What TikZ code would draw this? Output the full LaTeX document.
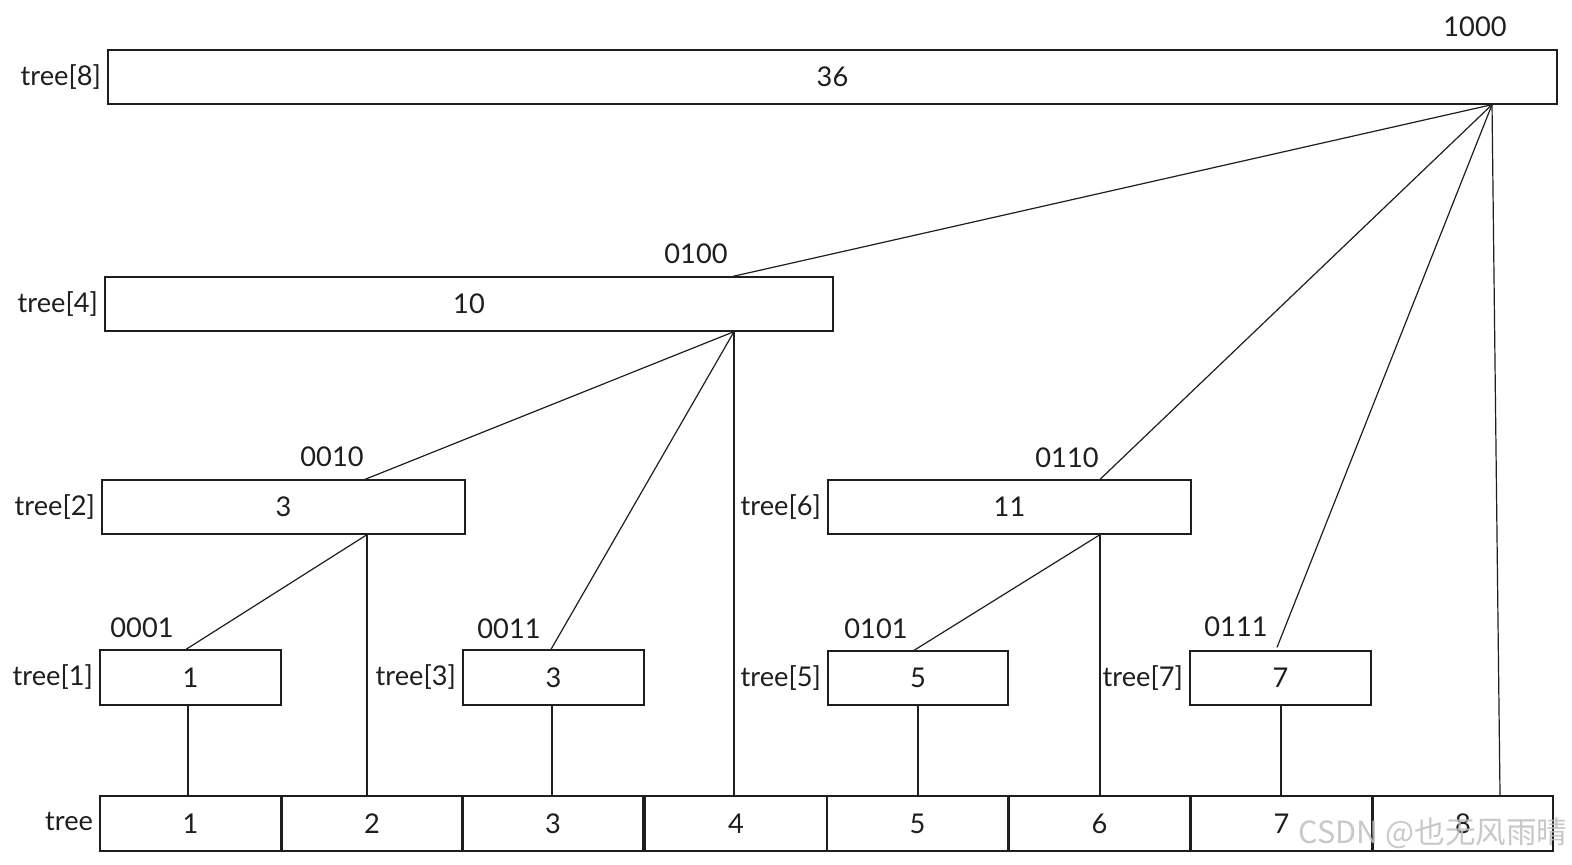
\documentclass[tikz,border=0pt]{standalone}
\usepackage{fontspec}
\setmainfont{Lato}
\newfontfamily\cjkfont{Noto Sans CJK SC}
\usetikzlibrary{calc}
\definecolor{ink}{HTML}{1E1E1E}
\tikzset{
  bx/.style 2 args={draw=ink, line width=0.65pt, inner sep=0pt, minimum width=#1*0.5pt, minimum height=#2*0.5pt, text=ink, font=\fontsize{13.6}{15}\selectfont},
  lbl/.style={anchor=east, inner sep=0pt, text=ink, font=\fontsize{13.6}{15}\selectfont},
  bin/.style={inner sep=0pt, text=ink, font=\fontsize{13.6}{15}\selectfont},
  link/.style={draw=ink, line width=0.6pt}
}
\begin{document}
\begin{tikzpicture}[x=0.5pt,y=-0.5pt]
\useasboundingbox[fill=white] (0,0) rectangle (1572,864);
% boxes
\node[bx={1449}{54}] (b8) at (832.5,77) {36};
\node[bx={728}{54}]  (b4) at (469,304) {10};
\node[bx={363}{54}]  (b2) at (283.5,507) {3};
\node[bx={363}{54}]  (b6) at (1009.5,507) {11};
\node[bx={181}{55}]  (b1) at (190.5,677.5) {1};
\node[bx={181}{55}]  (b3) at (553.5,677.5) {3};
\node[bx={180}{54}]  (b5) at (918,678) {5};
\node[bx={181}{54}]  (b7) at (1280.5,678) {7};
% bottom array
\node[bx={181}{55}] (a1) at (190.5,823.5) {1};
\node[bx={180}{55}] (a2) at (372,823.5) {2};
\node[bx={180}{55}] (a3) at (553,823.5) {3};
\node[bx={182}{55}] (a4) at (736,823.5) {4};
\node[bx={181}{55}] (a5) at (917.5,823.5) {5};
\node[bx={181}{55}] (a6) at (1099.5,823.5) {6};
\node[bx={181}{55}] (a7) at (1281.5,823.5) {7};
\node[bx={180}{55}] (a8) at (1463,823.5) {8};
% side labels
\node[lbl] (l8) at ([xshift=-3pt]b8.west) {tree[8]};
\node[lbl] (l4) at ([xshift=-3pt]b4.west) {tree[4]};
\node[lbl] (l2) at ([xshift=-3pt]b2.west) {tree[2]};
\node[lbl] (l6) at ([xshift=-3pt]b6.west) {tree[6]};
\node[lbl] (l1) at ([xshift=-3pt]b1.west) {tree[1]};
\node[lbl] (l3) at ([xshift=-3pt]b3.west) {tree[3]};
\node[lbl] (l5) at ([xshift=-3pt]b5.west) {tree[5]};
\node[lbl] (l7) at ([xshift=-3pt]b7.west) {tree[7]};
\node[lbl] (la) at ([xshift=-3pt,yshift=1pt]a1.west) {tree};
% binary labels
\node[bin] (n8) at (1475,27) {1000};
\node[bin] (n4) at (696,254) {0100};
\node[bin] (n2) at (332,457) {0010};
\node[bin] (n6) at (1067,458) {0110};
\node[bin] (n1) at (142,628) {0001};
\node[bin] (n3) at (509,629) {0011};
\node[bin] (n5) at (876,629) {0101};
\node[bin] (n7) at (1236,627) {0111};
% connectors
\draw[link] ([xshift=329.75pt]b8.south) -- ([xshift=132pt]b4.north);
\draw[link] ([xshift=329.75pt]b8.south) -- ([xshift=45.25pt]b6.north);
\draw[link] ([xshift=329.75pt]b8.south) -- ([xshift=-1.75pt,yshift=1.5pt]b7.north);
\draw[link] ([xshift=329.75pt]b8.south) -- ([xshift=18.5pt]a8.north);
\draw[link] ([xshift=132.5pt]b4.south) -- ([xshift=40.75pt]b2.north);
\draw[link] ([xshift=132.5pt]b4.south) -- ([xshift=-1.25pt]b3.north);
\draw[link] ([xshift=132.5pt]b4.south) -- ([xshift=-1pt]a4.north);
\draw[link] ([xshift=41.75pt]b2.south) -- ([xshift=-2.25pt]b1.north);
\draw[link] ([xshift=41.75pt]b2.south) -- ([xshift=-2.5pt]a2.north);
\draw[link] ([xshift=-1.25pt]b1.south) -- ([xshift=-1.25pt]a1.north);
\draw[link] ([xshift=-0.75pt]b3.south) -- ([xshift=-0.5pt]a3.north);
\draw[link] ([xshift=45.25pt]b6.south) -- ([xshift=-2pt]b5.north);
\draw[link] ([xshift=45.25pt]b6.south) -- ([xshift=0.25pt]a6.north);
\draw[link] (b5.south) -- ([xshift=0.25pt]a5.north);
\draw[link] ([xshift=0.25pt]b7.south) -- ([xshift=-0.25pt]a7.north);
% watermark
\node[inner sep=0pt, text=gray!50, opacity=0.85, font=\cjkfont\fontsize{15.3}{17}\selectfont] (wm) at (1433,833) {CSDN @也无风雨晴};
\end{tikzpicture}
\end{document}
